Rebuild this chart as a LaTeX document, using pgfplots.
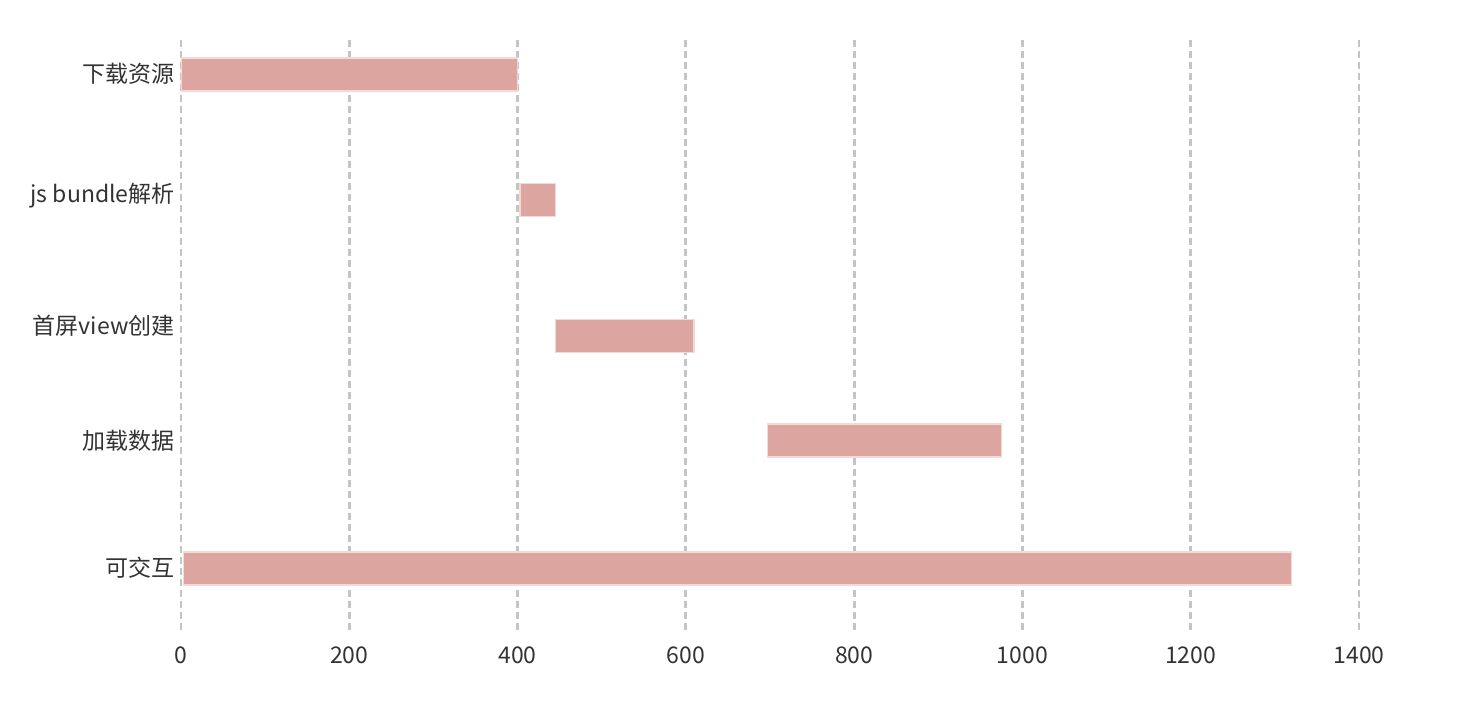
\documentclass[border=0pt]{standalone}
\usepackage{fontspec}
\setmainfont{Noto Sans CJK SC}
\usepackage{pgfplots}
\pgfplotsset{compat=1.18}
\definecolor{barfill}{HTML}{DCA5A0}
\definecolor{baredge}{HTML}{F3DAD7}
\definecolor{gridc}{HTML}{C4C4C4}
\definecolor{textc}{HTML}{333333}
\begin{document}
\begin{tikzpicture}[x=1pt,y=1pt]
\useasboundingbox (0,0) rectangle (731,355);
\begin{axis}[
  at={(90.5pt,39pt)}, anchor=south west,
  scale only axis, width=589pt, height=296pt,
  xmin=0, xmax=1400, ymin=40, ymax=632, y dir=reverse,
  xbar stacked, bar width=16.5pt,
  xtick={0,200,...,1400},
  ytick={74,196,326,441,568},
  yticklabels={下载资源, js bundle解析, 首屏view创建, 加载数据, 可交互},
  xmajorgrids,
  grid style={gridc, line width=1.4pt, dash pattern=on 3.5pt off 2pt},
  axis line style={draw=none},
  major tick length=0pt,
  tick label style={font=\fontsize{11.5}{13}\selectfont, text=textc},
  xticklabel style={yshift=-4pt},
  yticklabel style={inner sep=0pt, xshift=-3pt},
  /pgf/number format/assume math mode=true,
  /pgf/number format/1000 sep={},
  scaled x ticks=false,
]
\addplot[draw=none, fill=none, forget plot] coordinates {(0,74.5) (403,200) (445,336) (697,440.5) (3,568.5)};
\addplot[fill=barfill, draw=baredge, line width=0.8pt] coordinates {(400,74.5) (42,200) (165,336) (278,440.5) (1317,568.5)};
\end{axis}
\end{tikzpicture}
\end{document}
